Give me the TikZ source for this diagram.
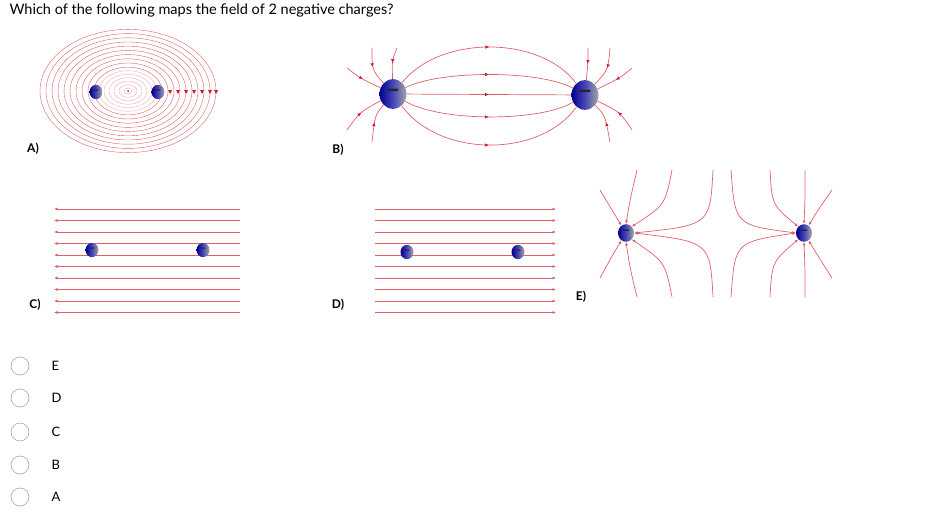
\documentclass[tikz,border=0pt]{standalone}
\usepackage{fontspec}
\setmainfont{Lato}
\usetikzlibrary{arrows.meta,decorations.markings,shapes.geometric}
\definecolor{fl}{HTML}{E0606A}
\definecolor{fa}{HTML}{D01830}
\tikzset{
 fld/.style={draw=fl,line width=0.7pt},
 midarr/.style={fld,postaction={decorate},decoration={markings,mark=at position #1 with {\arrow[fa]{Latex[length=4pt,width=3.5pt]}}}},
 endarr/.style={fld,-{Latex[length=3.5pt,width=3pt]},fa},
 chg/.style={ellipse,minimum width=#1,minimum height=#1*1.1,inner sep=0pt,left color=blue!55!black,right color=gray!70,middle color=blue!45!gray,text=black!85,font=\bfseries\fontsize{#1*0.55}{#1*0.55}\selectfont},
 lbl/.style={font=\bfseries\fontsize{12}{12}\selectfont},
 opt/.style={circle,draw=gray!70,line width=0.6pt,minimum size=18pt,inner sep=0pt},
 optl/.style={font=\fontsize{13}{13}\selectfont,anchor=west}
}
\begin{document}
\begin{tikzpicture}[x=1pt,y=-1pt]
\useasboundingbox (0,0) rectangle (926,519);
\node[anchor=west,font=\fontsize{14.5}{16}\selectfont] (title) at (6,10) {Which of the following maps the field of 2 negative charges?};
% A
\foreach \r in {88,82,76,70,64,58,52,46,40,34} {\draw[fl] (128,91) ellipse ({\r} and {\r*0.7});}
\foreach \r in {29,24,19,14,9,4} {\draw[fl!50,line width=0.4pt] (128,91) ellipse ({\r} and {\r*0.7});}
\fill[fa] (128,91) circle (1pt);
\node[chg=13pt] (a1) at (96,92) {–};
\node[chg=13pt] (a2) at (158,92) {–};
\foreach \x in {170,178,186,194,202,210,216} {\fill[fa] (\x-2,90) -- (\x+2,90) -- (\x,94) -- cycle;}
\node[lbl] (la) at (33,149) {A)};
% B
\node[chg=27pt] (b1) at (393,94) {–};
\node[chg=27pt] (b2) at (585,95) {–};
\draw[midarr=0.5] (b1) .. controls (440,35) and (540,35) .. (b2);
\draw[midarr=0.5] (b1) .. controls (440,70) and (540,70) .. (b2);
\draw[midarr=0.5] (b1) -- (b2);
\draw[midarr=0.5] (b1) .. controls (440,122) and (540,122) .. (b2);
\draw[midarr=0.5] (b1) .. controls (440,158) and (540,158) .. (b2);
\coordinate (p1) at (347,68); \coordinate (p2) at (372,48); \coordinate (p3) at (397,48);
\coordinate (p4) at (347,130); \coordinate (p5) at (372,142);
\draw[midarr=0.5] (p1) .. controls (360,78) .. (b1);
\draw[midarr=0.5] (p2) .. controls (372,70) .. (b1);
\draw[midarr=0.5] (p3) .. controls (392,60) .. (b1);
\draw[midarr=0.5] (p4) .. controls (360,112) .. (b1);
\draw[midarr=0.5] (p5) .. controls (375,115) .. (b1);
\coordinate (q1) at (632,68); \coordinate (q2) at (610,48); \coordinate (q3) at (588,48);
\coordinate (q4) at (632,130); \coordinate (q5) at (610,142);
\draw[midarr=0.5] (q1) .. controls (620,78) .. (b2);
\draw[midarr=0.5] (q2) .. controls (608,70) .. (b2);
\draw[midarr=0.5] (q3) .. controls (588,62) .. (b2);
\draw[midarr=0.5] (q4) .. controls (620,112) .. (b2);
\draw[midarr=0.5] (q5) .. controls (605,115) .. (b2);
\node[lbl] (lb) at (338,150) {B)};
% C
\foreach \i in {0,...,9} {\coordinate (cs\i) at (240,209+11.5*\i); \coordinate (ce\i) at (54,209+11.5*\i); \draw[endarr,fl] (cs\i) -- (ce\i);}
\node[chg=13pt] (c1) at (92,250) {–};
\node[chg=13pt] (c2) at (203,250) {–};
\node[lbl] (lc) at (35,305) {C)};
% D
\foreach \i in {0,...,9} {\coordinate (ds\i) at (375,209+11.5*\i); \coordinate (de\i) at (556,209+11.5*\i); \draw[endarr,fl] (ds\i) -- (de\i);}
\node[chg=13pt] (d1) at (407,252) {–};
\node[chg=13pt] (d2) at (518,252) {–};
\node[lbl] (ld) at (338,305) {D)};
% E
\node[chg=16pt] (e1) at (626,233) {–};
\node[chg=16pt] (e2) at (804,233) {–};
\tikzset{ea/.style={fld,-{Latex[length=3.5pt,width=3pt]}}}
\draw[ea] (600,190) .. controls (612,210) .. (e1);
\draw[ea] (637,170) .. controls (630,200) .. (e1.north);
\draw[ea] (672,170) .. controls (665,205) .. (e1.north east);
\draw[ea] (713,170) .. controls (710,225) .. (e1.east);
\draw[ea] (600,278) .. controls (612,256) .. (e1);
\draw[ea] (637,297) .. controls (630,268) .. (e1.south);
\draw[ea] (672,297) .. controls (665,262) .. (e1.south east);
\draw[ea] (713,297) .. controls (710,242) .. (e1.east);
\draw[ea] (832,190) .. controls (818,210) .. (e2);
\draw[ea] (805,170) .. controls (805,200) .. (e2.north);
\draw[ea] (770,170) .. controls (772,205) .. (e2.north west);
\draw[ea] (731,170) .. controls (735,225) .. (e2.west);
\draw[ea] (832,278) .. controls (818,256) .. (e2);
\draw[ea] (805,297) .. controls (805,268) .. (e2.south);
\draw[ea] (770,297) .. controls (772,262) .. (e2.south west);
\draw[ea] (731,297) .. controls (735,242) .. (e2.west);
\node[lbl] (le) at (581,297) {E)};
% options
\foreach \y/\t [count=\k] in {366/E,398/D,432/C,465/B,497/A} {
 \node[opt] (o\k) at (20,\y) {};
 \node[optl] (t\k) at (48,\y) {\t};
}
\end{tikzpicture}
\end{document}
